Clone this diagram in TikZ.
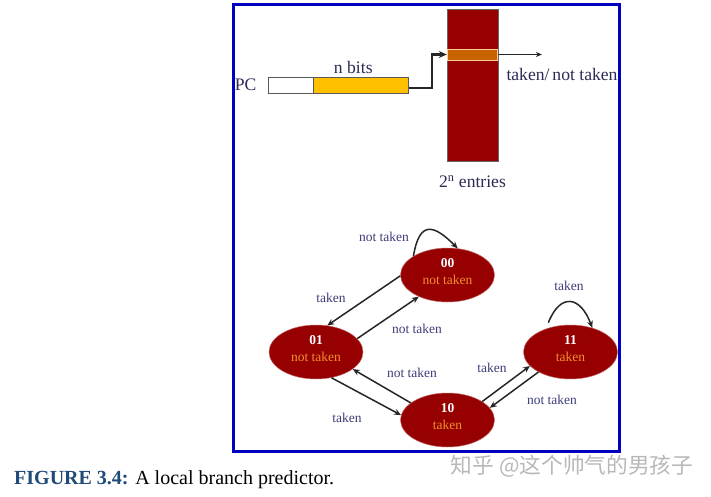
\documentclass[tikz,border=0pt]{standalone}
\usepackage{fontspec}
\setmainfont{Liberation Serif}
\newfontfamily\cjkfont{Noto Sans CJK SC}
\usetikzlibrary{positioning, shapes.geometric, arrows.meta}
\definecolor{framecol}{HTML}{0000C0}
\definecolor{tablecol}{HTML}{960000}
\definecolor{slotcol}{HTML}{C86400}
\definecolor{bitscol}{HTML}{FFC000}
\definecolor{labelcol}{HTML}{3C3C78}
\definecolor{outcol}{HTML}{F09030}
\definecolor{capcol}{HTML}{1F4A7A}
\tikzset{
  bigstate/.style={ellipse, fill=tablecol, draw=tablecol!60!white, line width=0.5pt, minimum width=94pt, minimum height=54pt, inner sep=0pt, align=center, text=white, text depth=7pt, font=\fontsize{13.5}{15}\selectfont},
  lab/.style={text=labelcol, font=\fontsize{13.5}{15}\selectfont, inner sep=0pt},
  biglab/.style={text=labelcol!70!black, font=\fontsize{17.6}{20}\selectfont, inner sep=0pt},
  regbox/.style={draw=black!65, line width=0.8pt, minimum height=16pt, inner sep=0pt},
  trans/.style={-{Stealth[length=7pt,width=6pt]}, line width=1.5pt, black!85}
}
\begin{document}
\begin{tikzpicture}[x=1pt, y=1pt]
\useasboundingbox (0,0) rectangle (711,496);
\node[draw=framecol, line width=3pt, minimum width=386pt, minimum height=446pt, inner sep=0pt] (frame) at (426,268) {};

\node[fill=tablecol, draw=black!60, line width=0.4pt, minimum width=51pt, minimum height=152pt, inner sep=0pt] (table) at (472.5,411) {};
\node[fill=slotcol, draw=orange!40!white, line width=0.8pt, minimum width=50pt, minimum height=11pt, inner sep=0pt] (slot) at (472.5,441.5) {};

\node[regbox, fill=white, minimum width=45pt] (tag) at (290.5,411) {};
\node[regbox, fill=bitscol, minimum width=95pt, right = 0pt of tag] (bits) {};
\coordinate[right = 23pt of bits, yshift=-3pt] (bend);
\coordinate[right = 44pt of slot] (out);

\node[biglab, left = 11pt of tag] (pc) {PC};
\node[biglab, above = 3pt of bits, xshift=-8pt] (nbits) {n bits};
\node[biglab, anchor=center] (result) at (562,422) {taken/\,not taken};
\node[biglab, below = 14pt of table] (entries) {2\textsuperscript{n} entries};

\draw[-{Stealth[length=8pt,width=7pt]}, line width=2.4pt, black!85] (bits.east |- bend) -- (bend) |- (table.west |- slot);
\draw[-{Stealth[length=6pt,width=5pt]}, line width=0.8pt, black!85] (slot.east) -- (out);

\node[bigstate] (S01) at (316,144) {\textbf{01}\\[2pt]\textcolor{outcol}{not taken}};
\node[bigstate, right = 37pt of S01, yshift=77pt] (S00) {\textbf{00}\\[2pt]\textcolor{outcol}{not taken}};
\node[bigstate, right = 37pt of S01, yshift=-68pt] (S10) {\textbf{10}\\[2pt]\textcolor{outcol}{taken}};
\node[bigstate, right = 160pt of S01] (S11) {\textbf{11}\\[2pt]\textcolor{outcol}{taken}};

\path[trans] (S00.181) edge (S01.67);
\path[trans] (S01.18) edge (S00.217);
\path[trans] (S10.155) edge (S01.-25);
\path[trans] (S01.-59) edge (S10.174);
\path[trans] (S10.28) edge (S11.199);
\path[trans] (S11.212) edge (S10.16);
\draw[trans] (S00.151) .. controls +(6,36) and +(-24,24) .. (S00.69);
\draw[trans] ([shift={(-5,4)}]S11.124) .. controls +(12,30) and +(-12,32) .. (S11.48);

\node[lab] (l00) at (384,259) {not taken};
\node[lab] (l0001) at (331,198) {taken};
\node[lab] (l0100) at (417,167) {not taken};
\node[lab] (l1001) at (412,123) {not taken};
\node[lab] (l0110) at (347,78) {taken};
\node[lab] (l1011) at (492,128) {taken};
\node[lab] (l1110) at (552,96) {not taken};
\node[lab] (l11) at (569,210) {taken};

\node[anchor=base west, inner sep=0pt, font=\fontsize{20}{22}\selectfont] (caption) at (14,12) {\textcolor{capcol}{\textbf{FIGURE 3.4:}} A local branch predictor.};
\node[anchor=center, inner sep=0pt, text=black!28, font=\cjkfont\fontsize{21.7}{24}\selectfont] (mark) at (572,30) {知乎 @这个帅气的男孩子};
\end{tikzpicture}
\end{document}
